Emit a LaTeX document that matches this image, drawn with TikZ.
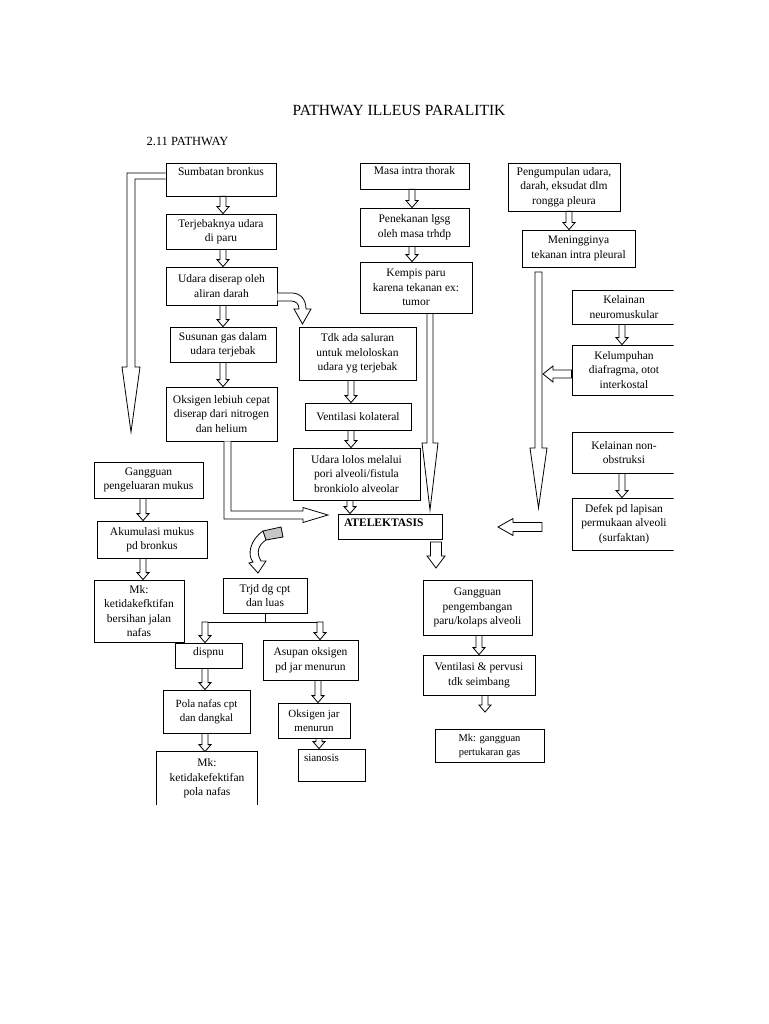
\documentclass[tikz,border=0pt]{standalone}
\usepackage{fontspec}
\setmainfont{Liberation Serif}
\usetikzlibrary{calc}
\newcommand\hollowarr[5]{%
  \path (#1) coordinate (hA) (#2) coordinate (hB);
  \path ($(hB)!#5!(hA)$) coordinate (hC);
  \draw[conn] ($(hA)!#3!90:(hB)$) -- ($(hC)!#3!-90:(hA)$) -- ($(hC)!#4!-90:(hA)$) -- (hB) -- ($(hC)!#4!90:(hA)$) -- ($(hC)!#3!90:(hA)$) -- ($(hA)!#3!-90:(hB)$) -- cycle;
}
\newcommand\smallarr[2]{\hollowarr{#1}{#2}{3pt}{6pt}{7pt}}
\begin{document}
\begin{tikzpicture}[x=1pt,y=-1pt,
  bx/.style={draw, line width=0.8pt, inner sep=1pt, align=center, font=\fontsize{11.5}{14.5}\selectfont},
  sm/.style={font=\fontsize{11}{14}\selectfont},
  conn/.style={draw, line width=0.8pt, fill=white, line join=miter},
  ln/.style={draw, line width=0.8pt},
]
\useasboundingbox (0,0) rectangle (768,1024);
\fill[white] (0,0) rectangle (768,1024);

\node[font=\fontsize{15.5}{18}\selectfont] (title) at (399,110) {PATHWAY ILLEUS PARALITIK};
\node[font=\fontsize{12.5}{15}\selectfont, anchor=west] (sub) at (143,141) {2.11 PATHWAY};

% left column
\node[bx, minimum width=110pt, minimum height=33pt, text depth=15pt] (s1) at (221,179.5) {Sumbatan bronkus};
\node[bx, minimum width=110pt, minimum height=35pt] (s2) at (221,231.5) {Terjebaknya udara\\di paru};
\node[bx, minimum width=111pt, minimum height=38pt] (s3) at (221.5,286) {Udara diserap oleh\\aliran darah};
\node[bx, minimum width=106pt, minimum height=35pt] (s4) at (223,344.5) {Susunan gas dalam\\udara terjebak};
\node[bx, minimum width=111pt, minimum height=54pt] (s5) at (221.5,414) {Oksigen lebiuh cepat\\diserap dari nitrogen\\dan helium};

% middle column
\node[bx, minimum width=109pt, minimum height=26pt, text depth=10pt] (m1) at (414.5,176) {Masa intra thorak};
\node[bx, minimum width=109pt, minimum height=38pt] (m2) at (414.5,227) {Penekanan lgsg\\oleh masa trhdp};
\node[bx, minimum width=112pt, minimum height=51pt] (m3) at (416,287.5) {Kempis paru\\karena tekanan ex:\\tumor};
\node[bx, minimum width=117pt, minimum height=53pt] (t1) at (357.5,353.5) {Tdk ada saluran\\untuk meloloskan\\udara yg terjebak};
\node[bx, minimum width=106pt, minimum height=27pt] (t2) at (358,416.5) {Ventilasi kolateral};
\node[bx, minimum width=127pt, minimum height=52pt] (t3) at (356.5,474) {Udara lolos melalui\\pori alveoli/fistula\\bronkiolo alveolar};

% right column
\node[bx, minimum width=112pt, minimum height=48pt] (r1) at (564,187) {Pengumpulan udara,\\darah, eksudat dlm\\rongga pleura};
\node[bx, minimum width=113pt, minimum height=37pt] (r2) at (578.5,248.5) {Meningginya\\tekanan intra pleural};
\begin{scope}
\clip (0,0) rectangle (673.5,1024);
\node[bx, minimum width=104pt, minimum height=34pt] (k1) at (624,307) {Kelainan\\neuromuskular};
\node[bx, minimum width=104pt, minimum height=50pt] (k2) at (624,370) {Kelumpuhan\\diafragma, otot\\interkostal};
\node[bx, minimum width=104pt, minimum height=41pt] (k3) at (624,452.5) {Kelainan non-\\obstruksi};
\node[bx, minimum width=104pt, minimum height=52pt] (k4) at (624,524) {Defek pd lapisan\\permukaan alveoli\\(surfaktan)};
\end{scope}

\node[bx, minimum width=104pt, minimum height=25pt, text depth=8pt, text width=92pt, align=left, font=\fontsize{11.5}{14}\selectfont\bfseries] (at) at (390,526.5) {ATELEKTASIS};

% lower left
\node[bx, minimum width=109pt, minimum height=36pt] (g1) at (148.5,480) {Gangguan\\pengeluaran mukus};
\node[bx, minimum width=110pt, minimum height=37pt] (g2) at (152,539.5) {Akumulasi mukus\\pd bronkus};
\node[bx, minimum width=90pt, minimum height=62pt] (g3) at (139,611) {Mk:\\ketidakefktifan\\bersihan jalan\\nafas};

\node[bx, minimum width=84pt, minimum height=35pt] (tr) at (265,595.5) {Trjd dg cpt\\dan luas};
\node[bx, minimum width=67pt, minimum height=25pt, text depth=8pt] (dp) at (208.5,655.5) {dispnu};
\node[bx, minimum width=95pt, minimum height=40pt] (as) at (310.5,660) {Asupan oksigen\\pd jar menurun};
\node[bx, sm, minimum width=87pt, minimum height=43pt] (pn) at (206.5,711.5) {Pola nafas cpt\\dan dangkal};
\node[bx, sm, minimum width=72pt, minimum height=35pt] (oj) at (314,720.5) {Oksigen jar\\menurun};
\node[bx, sm, minimum width=67pt, minimum height=32pt, text depth=14pt, text width=55pt, align=left] (si) at (331.5,765) {sianosis};
\node[bx, draw=none, minimum width=100pt, minimum height=53pt] (mk) at (207,778.5) {Mk:\\ketidakefektifan\\pola nafas};
\draw[ln] (mk.south west) -- (mk.north west) -- (mk.north east) -- (mk.south east);

% lower right
\node[bx, minimum width=109pt, minimum height=55pt] (a2) at (477.5,607.5) {Gangguan\\pengembangan\\paru/kolaps alveoli};
\node[bx, minimum width=112pt, minimum height=40pt] (a3) at (479,675) {Ventilasi \& pervusi\\tdk seimbang};
\node[bx, font=\fontsize{10.5}{14}\selectfont, minimum width=109pt, minimum height=33pt] (a4) at (489.5,745.5) {Mk: gangguan\\pertukaran gas};

% small hollow arrows
\smallarr{s1.south -| 223,0}{s2.north -| 223,0}
\smallarr{s2.south -| 223,0}{s3.north -| 223,0}
\smallarr{s3.south -| 223,0}{s4.north -| 223,0}
\smallarr{s4.south -| 223,0}{s5.north -| 223,0}
\smallarr{m1.south -| 412,0}{m2.north -| 412,0}
\smallarr{m2.south -| 412,0}{m3.north -| 412,0}
\smallarr{t1.south -| 351,0}{t2.north -| 351,0}
\smallarr{t2.south -| 351,0}{t3.north -| 351,0}
\smallarr{t3.south -| 350,0}{at.north -| 350,0}
\smallarr{r1.south -| 569,0}{r2.north -| 569,0}
\smallarr{k1.south -| 622,0}{k2.north -| 622,0}
\smallarr{k3.south -| 622,0}{k4.north -| 622,0}
\smallarr{g1.south -| 143,0}{g2.north -| 143,0}
\smallarr{g2.south -| 143,0}{g3.north -| 143,0}
\smallarr{dp.south -| 205,0}{pn.north -| 205,0}
\smallarr{pn.south -| 205,0}{mk.north -| 205,0}
\smallarr{as.south -| 318,0}{oj.north -| 318,0}
\smallarr{oj.south -| 319,0}{si.north -| 319,0}
\smallarr{a2.south -| 479,0}{a3.north -| 479,0}
\coordinate (a3end) at (485,712);
\smallarr{a3.south -| 485,0}{a3end}

% branch
\coordinate (bj) at (tr.south |- 0,622);
\coordinate (bl) at (205,622);
\coordinate (br) at (320,622);
\draw[ln] (tr.south) -- (bj);
\draw[ln] (bl) -- (br);
\smallarr{bl}{dp.north -| bl}
\smallarr{br}{as.north -| br}

% long arrows
\coordinate (ltip) at (131,432);
\draw[conn] (s1.west |- 0,173) -- (127,173) -- (127,367) -- (122,367) -- (ltip) -- (140,367) -- (135,367) -- (135,179) -- (s1.west |- 0,179);
\coordinate (ktip) at (430,510);
\hollowarr{m3.south -| 430,0}{ktip}{3pt}{8pt}{67pt}
\coordinate (rtop) at (538.5,272);
\coordinate (rtip) at (538.5,508);
\hollowarr{rtop}{rtip}{3.5pt}{8.5pt}{60pt}
\coordinate (Ltip) at (328,515);
\draw[conn] (s5.south -| 224,0) -- (224,519) -- (303,519) -- (303,522.5) -- (Ltip) -- (303,507.5) -- (303,511) -- (231,511) -- (s5.south -| 231,0);

% other block arrows
\coordinate (kend) at (543,374);
\hollowarr{k2.west |- kend}{kend}{4pt}{8pt}{10pt}
\coordinate (rs) at (542,527);
\coordinate (re) at (498,527);
\hollowarr{rs}{re}{4.5pt}{8.5pt}{15pt}
\coordinate (as1) at (436,542);
\coordinate (as2) at (436,568);
\hollowarr{as1}{as2}{5.5pt}{9pt}{12pt}

% curved arrow from s3 to t1
\draw[conn] (s3.east |- 0,293) -- (292,293) .. controls (300,293) and (306,299) .. (306,309) -- (311,309) -- (302.5,324) -- (294,309) -- (299,309) .. controls (299,304) and (296,301) .. (291,301) -- (s3.east |- 0,301);

% grey curved arrow
\draw[conn] (263,531) .. controls (250,540) and (247,555) .. (253,562) -- (249,563) -- (258,573) -- (266,561) -- (261,561) .. controls (256,553) and (258,545) .. (266,540);
\draw[line width=0.8pt, fill=gray!45] (263,531) -- (281,527) -- (283,537) -- (266,540) -- cycle;
\end{tikzpicture}
\end{document}
